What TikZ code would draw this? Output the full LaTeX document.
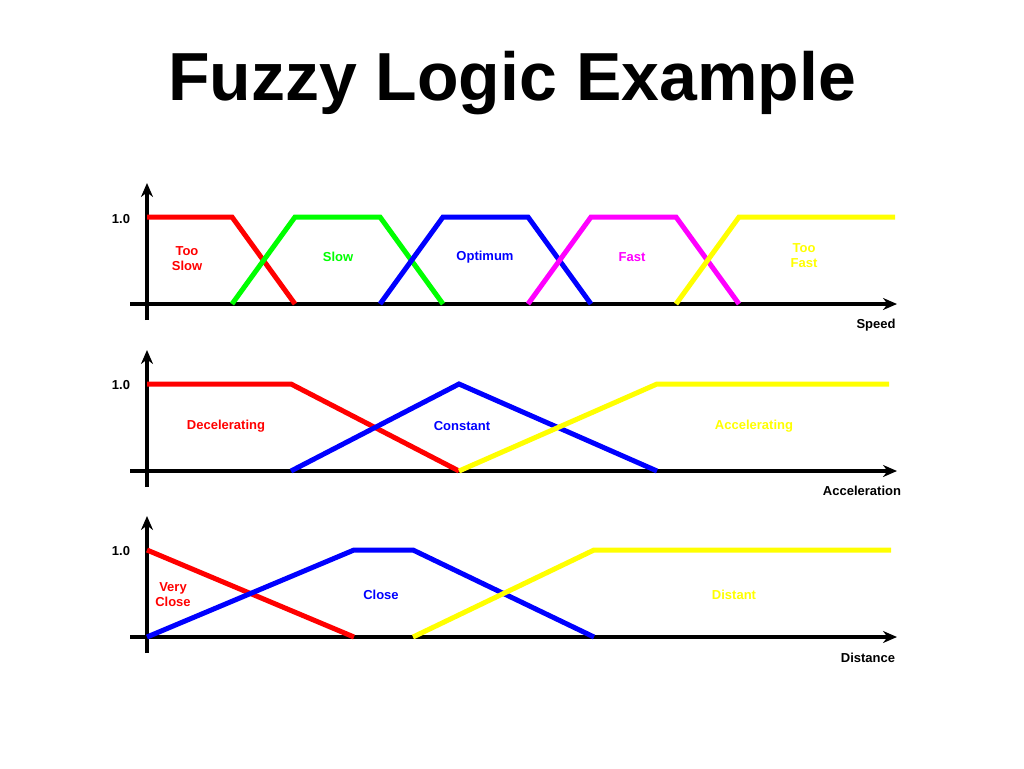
\documentclass[tikz,border=0pt]{standalone}
\usepackage{fontspec}
\setmainfont{Liberation Sans}
\usetikzlibrary{arrows.meta}
\definecolor{pmag}{RGB}{255,0,255}
\definecolor{pyel}{RGB}{255,255,0}
\definecolor{pgrn}{RGB}{0,255,0}
\definecolor{pred}{RGB}{255,0,0}
\definecolor{pblu}{RGB}{0,0,255}
\begin{document}
\begin{tikzpicture}[x=1pt,y=-1pt,
  ax/.style={line width=3.5pt,-{Stealth[length=14pt,width=12pt]}},
  mf/.style={line width=5pt,line join=miter},
  lab/.style={font=\bfseries\fontsize{13}{15}\selectfont,align=center},
  ]
\useasboundingbox (0,0) rectangle (1024,768);
\node (title) at (512,83) {\bfseries\fontsize{68}{76}\selectfont Fuzzy Logic Example};
% chart 1
\coordinate (a1s) at (147,320); \coordinate (a1t) at (147,183);
\coordinate (x1s) at (130,304); \coordinate (x1t) at (897,304);
\draw[ax] (a1s) -- (a1t); \draw[ax] (x1s) -- (x1t);
\node[lab] (o1) at (121,219) {1.0};
\node[lab] (s1) at (876,325) {Speed};
\draw[mf,pred] (147,217) -- (232,217) -- (295,304);
\draw[mf,pgrn] (232,304) -- (295,217) -- (380,217) -- (443,304);
\draw[mf,pblu] (380,304) -- (443,217) -- (528,217) -- (591,304);
\draw[mf,pmag] (528,304) -- (591,217) -- (676,217) -- (739,304);
\draw[mf,pyel] (676,304) -- (739,217) -- (895,217);
\node[lab,pred] (l11) at (187,259) {Too\\Slow};
\node[lab,pgrn] (l12) at (338,257) {Slow};
\node[lab,pblu] (l13) at (485,257) {Optimum};
\node[lab,pmag] (l14) at (632,257) {Fast};
\node[lab,pyel] (l15) at (804,256) {Too\\Fast};
% chart 2
\coordinate (a2s) at (147,487); \coordinate (a2t) at (147,350);
\coordinate (x2s) at (130,471); \coordinate (x2t) at (897,471);
\draw[ax] (a2s) -- (a2t); \draw[ax] (x2s) -- (x2t);
\node[lab] (o2) at (121,385) {1.0};
\node[lab] (s2) at (862,491) {Acceleration};
\draw[mf,pred] (147,384) -- (291,384) -- (459,471);
\draw[mf,pblu] (291,471) -- (459,384) -- (657,471);
\draw[mf,pyel] (459,471) -- (657,384) -- (889,384);
\node[lab,pred] (l21) at (226,426) {Decelerating};
\node[lab,pblu] (l22) at (462,426) {Constant};
\node[lab,pyel] (l23) at (754,426) {Accelerating};
% chart 3
\coordinate (a3s) at (147,653); \coordinate (a3t) at (147,516);
\coordinate (x3s) at (130,637); \coordinate (x3t) at (897,637);
\draw[ax] (a3s) -- (a3t); \draw[ax] (x3s) -- (x3t);
\node[lab] (o3) at (121,551) {1.0};
\node[lab] (s3) at (868,658) {Distance};
\draw[mf,pred] (147,550) -- (354,637);
\draw[mf,pblu] (147,637) -- (354,550) -- (413,550) -- (594,637);
\draw[mf,pyel] (413,637) -- (594,550) -- (891,550);
\node[lab,pred] (l31) at (173,595) {Very\\Close};
\node[lab,pblu] (l32) at (381,595) {Close};
\node[lab,pyel] (l33) at (734,595) {Distant};
\end{tikzpicture}
\end{document}
